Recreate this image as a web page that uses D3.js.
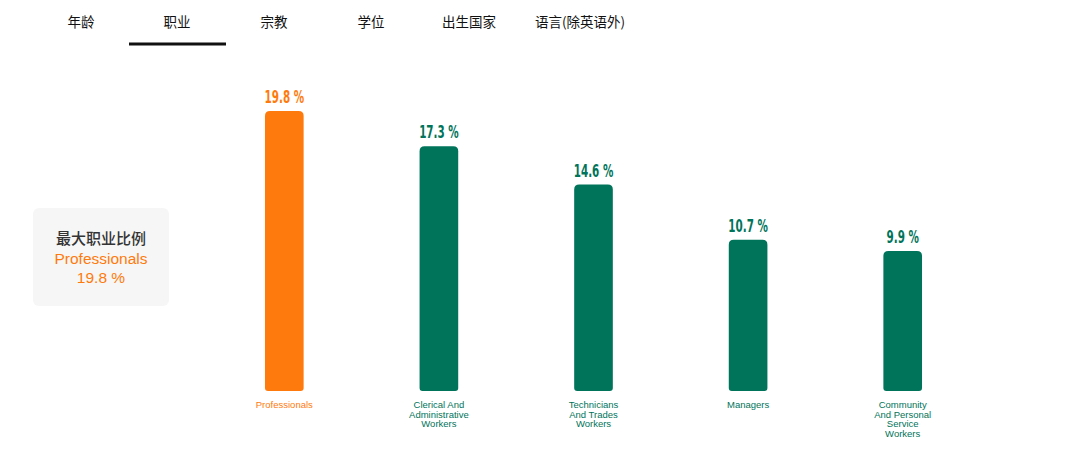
<!DOCTYPE html>
<html><head><meta charset="utf-8">
<script src="https://cdn.jsdelivr.net/npm/d3@7"></script>
<style>
html,body{margin:0;padding:0;background:#fff;}
svg{display:block;}
</style></head>
<body>
<svg id="chart" width="1080" height="458"></svg>
<script>
const tabs = ["年龄","职业","宗教","学位","出生国家","语言(除英语外)"];
const tabCenters = [81,177,274,371,469,580];
const activeTab = 1;
const categories = [["Professionals"],["Clerical And","Administrative","Workers"],["Technicians","And Trades","Workers"],["Managers"],["Community","And Personal","Service","Workers"]];
const values = [19.8,17.3,14.6,10.7,9.9];
const summaryTitle = "最大职业比例";

const ORANGE = "#FF7A0C", GREEN = "#00745A";
const svg = d3.select("#chart");
const cjk = "'Noto Sans CJK SC','Noto Sans',sans-serif";

// tabs
svg.selectAll("text.tab").data(tabs).join("text")
  .attr("x",(d,i)=>tabCenters[i]).attr("y",27)
  .attr("text-anchor","middle").attr("font-family",cjk)
  .attr("font-size",13.5).attr("fill","#111").text(d=>d);
svg.append("rect").attr("x",129).attr("y",42.5).attr("width",97).attr("height",3).attr("fill","#111");

// summary box
svg.append("rect").attr("x",33).attr("y",208).attr("width",136).attr("height",98).attr("rx",6).attr("fill","#f6f6f6");
const imax = values.indexOf(d3.max(values));
svg.append("text").attr("x",101).attr("y",244).attr("text-anchor","middle").attr("font-family",cjk)
  .attr("font-size",15).attr("font-weight",500).attr("fill","#333").text(summaryTitle);
svg.append("text").attr("x",101).attr("y",264).attr("text-anchor","middle").attr("font-family","'Liberation Sans',Arial,sans-serif")
  .attr("font-size",15.5).attr("fill",ORANGE).text(categories[imax].join(" "));
svg.append("text").attr("x",101).attr("y",283).attr("text-anchor","middle").attr("font-family","'Liberation Sans',Arial,sans-serif")
  .attr("font-size",15.5).attr("fill",ORANGE).text(values[imax]+" %");

// scales
const x = d3.scaleBand().domain(d3.range(values.length)).range([207,980]).paddingInner(0.75).paddingOuter(0.375);
const y = d3.scaleLinear().domain([0,d3.max(values)]).range([391,111]);
const color = (d,i)=> i===imax ? ORANGE : GREEN;

const g = svg.append("g");
g.selectAll("path.bar").data(values).join("path")
  .attr("fill",color)
  .attr("d",(d,i)=>{
    const x0=x(i), w=x.bandwidth(), y0=y(d), y1=y(0), r=5, rb=3;
    return `M${x0},${y0+r} Q${x0},${y0} ${x0+r},${y0} L${x0+w-r},${y0} Q${x0+w},${y0} ${x0+w},${y0+r} L${x0+w},${y1-rb} Q${x0+w},${y1} ${x0+w-rb},${y1} L${x0+rb},${y1} Q${x0},${y1} ${x0},${y1-rb} Z`;
  });

g.selectAll("text.val").data(values).join("text")
  .attr("transform",(d,i)=>`translate(${x(i)+x.bandwidth()/2},${y(d)-8}) scale(0.64,1)`)
  .attr("text-anchor","middle")
  .attr("font-family","'DejaVu Sans Condensed','DejaVu Sans',sans-serif")
  .attr("font-weight","bold").attr("font-size",18)
  .attr("fill",color).text(d=>d.toFixed(1)+" %");

const lab = g.selectAll("text.cat").data(categories).join("text")
  .attr("text-anchor","middle")
  .attr("font-family","'Liberation Sans',Arial,sans-serif")
  .attr("font-size",9.5)
  .attr("fill",(d,i)=>color(values[i],i));
lab.each(function(d,i){
  d3.select(this).selectAll("tspan").data(d).join("tspan")
    .attr("x",x(i)+x.bandwidth()/2).attr("y",(t,j)=>408+j*9.6).text(t=>t);
});
</script>
</body></html>
